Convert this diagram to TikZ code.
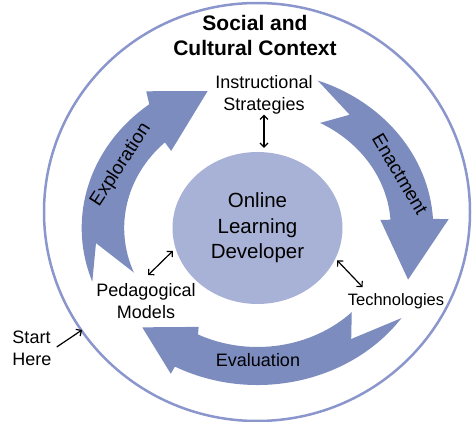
\documentclass[tikz,border=0pt]{standalone}
\usepackage{fontspec}
\setmainfont{Liberation Sans}
\usetikzlibrary{shapes.geometric,arrows.meta}
\definecolor{flowblue}{RGB}{124,140,191}
\definecolor{discblue}{RGB}{168,178,214}
\definecolor{ringblue}{RGB}{138,150,204}

\begin{document}
\begin{tikzpicture}[x=1pt,y=1pt,
  flow/.style={fill=flowblue},
  lbl/.style={inner sep=0pt,align=center,font=\fontsize{18}{22}\selectfont},
  link/.style={<->,>={Straight Barb[length=4pt,width=8pt]},line width=1.2pt}]
\clip (0,0) rectangle (474,421);
\coordinate (c) at (257.5,193);
\draw[ringblue,line width=2.5pt] (257,209) ellipse [x radius=213pt,y radius=209pt];
\fill[flow] ([shift={(c)}]200:175.8pt and 157pt) arc[start angle=200,end angle=128,x radius=175.8pt,y radius=157pt]
  -- ([shift={(c)}]126:189.3pt and 169pt) -- ([shift={(c)}]108:161.3pt and 144pt)
  -- ([shift={(c)}]135:122.1pt and 109pt) -- ([shift={(c)}]134:133.3pt and 119pt)
  arc[start angle=134,end angle=202,x radius=133.3pt,y radius=119pt]
  -- ([shift={(c)}]186:162.4pt and 145pt) -- cycle;
\fill[flow] ([shift={(c)}]70:175.8pt and 157pt) arc[start angle=70,end angle=3.3,x radius=175.8pt,y radius=157pt]
  -- ([shift={(c)}]3:191.5pt and 171pt) -- ([shift={(c)}]-21:161.3pt and 144pt)
  -- ([shift={(c)}]4.2:123.2pt and 110pt) -- ([shift={(c)}]4:133.3pt and 119pt)
  arc[start angle=4,end angle=62,x radius=133.3pt,y radius=119pt]
  -- ([shift={(c)}]54:156.8pt and 140pt) -- cycle;
\fill[flow] ([shift={(c)}]-35:175.8pt and 157pt) arc[start angle=-35,end angle=-118,x radius=175.8pt,y radius=157pt]
  -- ([shift={(c)}]-118:184.8pt and 165pt) -- ([shift={(c)}]-136:160.2pt and 143pt)
  -- ([shift={(c)}]-118:125.4pt and 112pt) -- ([shift={(c)}]-116.5:133.3pt and 119pt)
  arc[start angle=-116.5,end angle=-45,x radius=133.3pt,y radius=119pt]
  -- ([shift={(c)}]-53:155.7pt and 139pt) -- cycle;
\node[ellipse,fill=discblue,minimum width=170pt,minimum height=152pt,inner sep=0pt,align=center,
  font=\fontsize{20.5}{25.5}\selectfont] (olc) at (c) {Online\\Learning\\Developer};
\node[lbl,font=\bfseries\fontsize{21}{25}\selectfont] (ctx) at (255,385.5) {Social and\\Cultural Context};
\node[lbl] (is) at (264,326) {Instructional\\Strategies};
\node[lbl] (pm) at (146,120) {Pedagogical\\Models};
\node[lbl,font=\fontsize{16.5}{20}\selectfont] (tech) at (396,120) {Technologies};
\node[lbl] (eval) at (258,61) {Evaluation};
\node[lbl,font=\fontsize{19}{22}\selectfont,rotate=57] (expl) at (121,256) {Exploration};
\node[lbl,font=\fontsize{19}{22}\selectfont,rotate=-59.5] (enact) at (400,247) {Enactment};
\node[lbl,align=left] (sh) at (32,73) {Start\\Here};
\coordinate (entry) at (82,91);
\draw[link] (is.south) -- ([yshift=4pt]is.south |- olc.north);
\draw[link] ([shift={(2,8)}]pm.north) -- ([shift={(-3,-1)}]olc.195);
\draw[link] ([shift={(2,-1)}]olc.-22.5) -- ([shift={(15,6)}]tech.north west);
\draw[link,<-] (entry) -- ([shift={(5,1)}]sh.east);
\end{tikzpicture}
\end{document}
